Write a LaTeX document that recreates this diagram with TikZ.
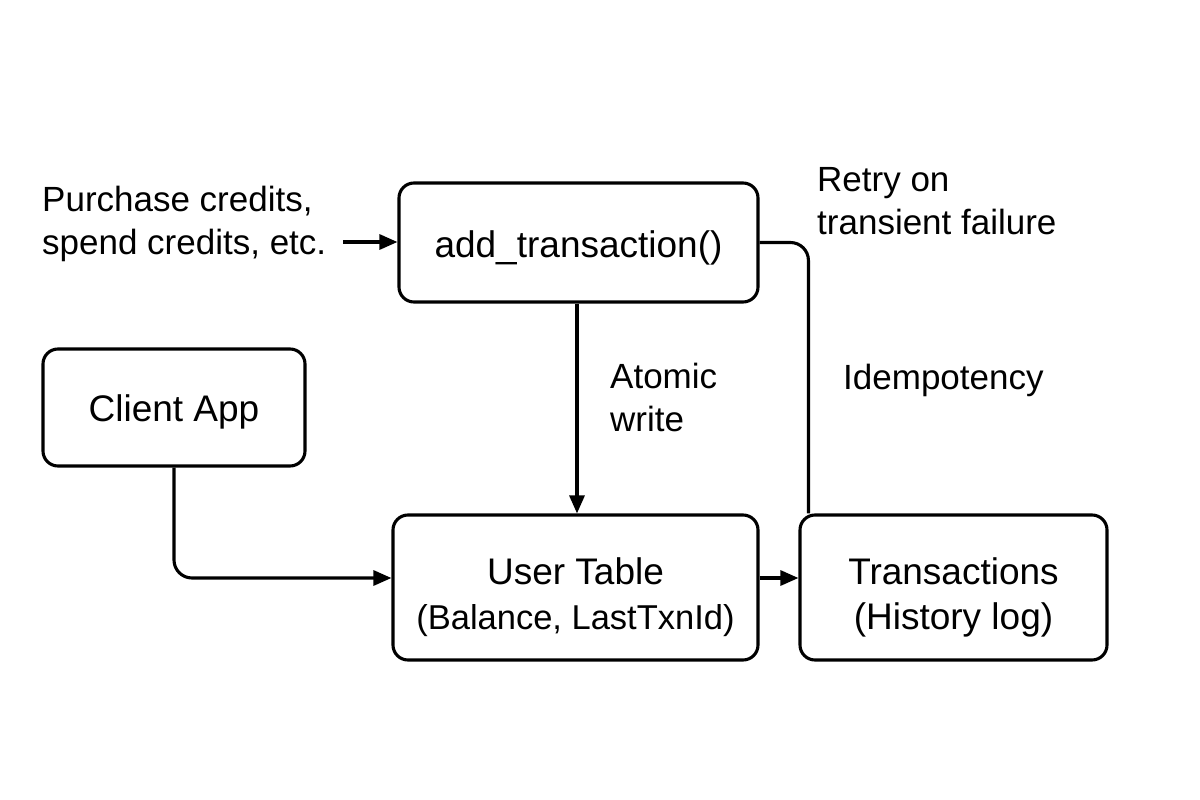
\documentclass[tikz,border=0pt]{standalone}
\usepackage{fontspec}
\setmainfont{Liberation Sans}
\usetikzlibrary{arrows.meta}
\newcommand{\lowered}[2]{\raisebox{-#1}[\height][\depth]{#2}}
\begin{document}
\begin{tikzpicture}[x=1pt,y=-1pt,
  box/.style={draw,line width=3.1pt,rounded corners=15pt,align=center,inner sep=0pt,
    font=\fontsize{37}{45}\selectfont},
  lbl/.style={anchor=west,align=left,inner sep=0pt,font=\fontsize{35}{43}\selectfont},
  conn/.style={line width=3.1pt,rounded corners=18pt},
  arr/.style={conn,-{Triangle[length=18pt,width=15pt]}}]
\useasboundingbox[fill=white] (0,0) rectangle (1200,800);
\node[box,minimum width=359pt,minimum height=119pt] (add) at (578.5,242.5) {\lowered{5pt}{add\_transaction()}};
\node[box,minimum width=262pt,minimum height=117pt] (client) at (174,407.5) {\lowered{4pt}{Client App}};
\node[box,minimum width=365pt,minimum height=145pt] (user) at (575.5,587.5)
  {\lowered{10pt}{\begin{tabular}{@{}c@{}}User Table\\{\fontsize{34.5}{45}\selectfont(Balance, LastTxnId)}\end{tabular}}};
\node[box,minimum width=307pt,minimum height=145pt] (trans) at (953.5,587.5)
  {\lowered{10pt}{\begin{tabular}{@{}c@{}}Transactions\\(History log)\end{tabular}}};
\node[lbl] (purchase) at (42,224) {Purchase credits,\\spend credits, etc.};
\node[lbl] (atomic) at (610,397.5) {Atomic\\write};
\node[lbl] (retry) at (817,201) {Retry on\\transient failure};
\node[lbl] (idem) at (843,380) {Idempotency};
\coordinate (pstart) at (343,242);
\draw[arr] (pstart) -- (pstart -| add.west);
\draw[arr] ([xshift=-1.5pt]add.south) -- ([xshift=-1.5pt]add.south |- user.north);
\draw[conn] (add.east) -| ([xshift=10pt]trans.north west);
\draw[arr] (client.south) |- ([yshift=9.5pt]user.west);
\draw[arr] ([yshift=9.5pt]user.east) -- ([yshift=9.5pt]trans.west);
\end{tikzpicture}
\end{document}
